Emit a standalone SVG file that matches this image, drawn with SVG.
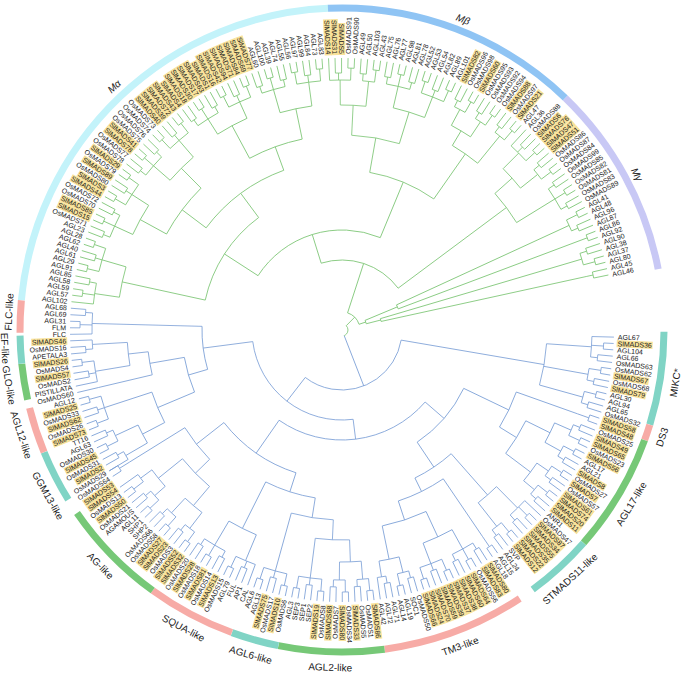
<svg xmlns="http://www.w3.org/2000/svg" width="685" height="676" viewBox="0 0 685 676">
<style>
text{font-family:"Liberation Sans",Arial,sans-serif;font-size:7px;fill:#1a1a1a}
.l text{text-anchor:end}
rect{fill:#f8e29a}
.gl text{font-size:10px;fill:#222;text-anchor:middle}
.gl .i{font-style:italic}
</style>
<defs>
<path id="a1" d="M272 0H262A262 262 0 0 1 261.93 6.13L271.93 6.36M261.98 3.06L249.98 2.92"/>
<path id="b1" d="M272 0H257A257 257 0 0 1 256.93 6.01L271.93 6.36M256.98 3.01L249.98 2.92"/>
<path id="a2" d="M272 0H262A262 262 0 0 1 261.92 6.29L271.92 6.53M261.98 3.15L249.98 3.00"/>
<path id="b2" d="M272 0H257A257 257 0 0 1 256.93 6.17L271.92 6.53M256.98 3.09L249.98 3.00"/>
<path id="s" d="M250 0H272"/>
</defs>
<rect width="685" height="676" style="fill:#fff"/>
<g transform="translate(342,330)">
<g id="connectors" fill="none" stroke-width="0.8">
<g id="mikc-edges" stroke="#7b9fd6">
<use href="#s" transform="rotate(1.5)"/>
<use href="#a1" transform="rotate(2.84)"/>
<use href="#b1" transform="rotate(5.52)"/>
<use href="#a1" transform="rotate(8.2)"/>
<use href="#b1" transform="rotate(10.88)"/>
<use href="#a1" transform="rotate(13.56)"/>
<use href="#b1" transform="rotate(16.24)"/>
<use href="#a1" transform="rotate(18.92)"/>
<use href="#b1" transform="rotate(21.6)"/>
<use href="#a1" transform="rotate(24.28)"/>
<use href="#a1" transform="rotate(26.96)"/>
<use href="#b1" transform="rotate(29.64)"/>
<use href="#a1" transform="rotate(32.32)"/>
<use href="#b1" transform="rotate(35)"/>
<use href="#a1" transform="rotate(37.68)"/>
<use href="#b1" transform="rotate(40.36)"/>
<use href="#s" transform="rotate(43.04)"/>
<use href="#a1" transform="rotate(44.38)"/>
<use href="#b1" transform="rotate(47.06)"/>
<use href="#a1" transform="rotate(49.74)"/>
<use href="#b1" transform="rotate(52.42)"/>
<use href="#a1" transform="rotate(55.1)"/>
<use href="#b1" transform="rotate(57.78)"/>
<use href="#a1" transform="rotate(60.46)"/>
<use href="#b1" transform="rotate(63.14)"/>
<use href="#a1" transform="rotate(65.82)"/>
<use href="#b1" transform="rotate(68.5)"/>
<use href="#a1" transform="rotate(71.18)"/>
<use href="#b1" transform="rotate(73.86)"/>
<use href="#a1" transform="rotate(76.54)"/>
<use href="#b1" transform="rotate(79.22)"/>
<use href="#s" transform="rotate(81.9)"/>
<use href="#a1" transform="rotate(83.24)"/>
<use href="#b1" transform="rotate(85.92)"/>
<use href="#a1" transform="rotate(88.6)"/>
<use href="#b1" transform="rotate(91.28)"/>
<use href="#a1" transform="rotate(93.96)"/>
<use href="#b1" transform="rotate(96.64)"/>
<use href="#a1" transform="rotate(99.32)"/>
<use href="#a2" transform="rotate(102.04)"/>
<use href="#b2" transform="rotate(104.79)"/>
<use href="#a2" transform="rotate(107.54)"/>
<use href="#s" transform="rotate(110.29)"/>
<use href="#b2" transform="rotate(111.67)"/>
<use href="#a2" transform="rotate(114.42)"/>
<use href="#b2" transform="rotate(117.17)"/>
<use href="#a2" transform="rotate(119.92)"/>
<use href="#b2" transform="rotate(122.68)"/>
<use href="#a2" transform="rotate(125.43)"/>
<use href="#b2" transform="rotate(128.18)"/>
<use href="#a2" transform="rotate(130.93)"/>
<use href="#b2" transform="rotate(133.68)"/>
<use href="#a2" transform="rotate(136.44)"/>
<use href="#b2" transform="rotate(139.19)"/>
<use href="#a2" transform="rotate(141.94)"/>
<use href="#s" transform="rotate(144.69)"/>
<use href="#a2" transform="rotate(147.44)"/>
<use href="#s" transform="rotate(148.82)"/>
<use href="#b2" transform="rotate(150.2)"/>
<use href="#a2" transform="rotate(152.95)"/>
<use href="#b2" transform="rotate(155.7)"/>
<use href="#a2" transform="rotate(158.45)"/>
<use href="#b2" transform="rotate(161.2)"/>
<use href="#a2" transform="rotate(163.96)"/>
<use href="#s" transform="rotate(166.71)"/>
<use href="#s" transform="rotate(168.08)"/>
<use href="#b2" transform="rotate(169.46)"/>
<use href="#a2" transform="rotate(172.21)"/>
<use href="#b2" transform="rotate(174.96)"/>
<use href="#s" transform="rotate(177.72)"/>
<use href="#s" transform="rotate(179.09)"/>
<use href="#a2" transform="rotate(180.47)"/>
<use href="#b2" transform="rotate(183.22)"/>
<circle r="250" pathLength="360" stroke-dasharray="4.69 360" transform="rotate(1.5)"/>
<circle r="250" pathLength="360" stroke-dasharray="2.68 360" transform="rotate(8.87)"/>
<circle r="250" pathLength="360" stroke-dasharray="2.68 360" transform="rotate(14.23)"/>
<circle r="205" pathLength="360" stroke-dasharray="11.72 360" transform="rotate(3.85)"/>
<circle r="250" pathLength="360" stroke-dasharray="2.68 360" transform="rotate(22.27)"/>
<circle r="250" pathLength="360" stroke-dasharray="2.68 360" transform="rotate(27.63)"/>
<circle r="232" pathLength="360" stroke-dasharray="5.36 360" transform="rotate(23.61)"/>
<circle r="250" pathLength="360" stroke-dasharray="2.68 360" transform="rotate(32.99)"/>
<circle r="250" pathLength="360" stroke-dasharray="2.68 360" transform="rotate(38.35)"/>
<circle r="236" pathLength="360" stroke-dasharray="5.36 360" transform="rotate(34.33)"/>
<circle r="205" pathLength="360" stroke-dasharray="10.72 360" transform="rotate(26.29)"/>
<circle r="185" pathLength="360" stroke-dasharray="12.06 360" transform="rotate(19.59)"/>
<circle r="250" pathLength="360" stroke-dasharray="4.69 360" transform="rotate(43.04)"/>
<circle r="250" pathLength="360" stroke-dasharray="2.68 360" transform="rotate(50.41)"/>
<circle r="220" pathLength="360" stroke-dasharray="6.36 360" transform="rotate(45.39)"/>
<circle r="250" pathLength="360" stroke-dasharray="5.36 360" transform="rotate(58.45)"/>
<circle r="250" pathLength="360" stroke-dasharray="5.36 360" transform="rotate(66.49)"/>
<circle r="228" pathLength="360" stroke-dasharray="8.04 360" transform="rotate(61.13)"/>
<circle r="250" pathLength="360" stroke-dasharray="2.68 360" transform="rotate(74.53)"/>
<circle r="250" pathLength="360" stroke-dasharray="2.01 360" transform="rotate(79.89)"/>
<circle r="234" pathLength="360" stroke-dasharray="5.03 360" transform="rotate(75.87)"/>
<circle r="200" pathLength="360" stroke-dasharray="13.24 360" transform="rotate(65.15)"/>
<circle r="180" pathLength="360" stroke-dasharray="16 360" transform="rotate(55.77)"/>
<circle r="165" pathLength="360" stroke-dasharray="15.2 360" transform="rotate(48.57)"/>
<circle r="135" pathLength="360" stroke-dasharray="30.55 360" transform="rotate(25.62)"/>
<circle r="250" pathLength="360" stroke-dasharray="2.68 360" transform="rotate(83.91)"/>
<circle r="250" pathLength="360" stroke-dasharray="2.68 360" transform="rotate(89.27)"/>
<circle r="232" pathLength="360" stroke-dasharray="5.36 360" transform="rotate(85.25)"/>
<circle r="250" pathLength="360" stroke-dasharray="5.36 360" transform="rotate(94.63)"/>
<circle r="210" pathLength="360" stroke-dasharray="9.38 360" transform="rotate(87.93)"/>
<circle r="250" pathLength="360" stroke-dasharray="5.5 360" transform="rotate(102.73)"/>
<circle r="190" pathLength="360" stroke-dasharray="12.86 360" transform="rotate(92.62)"/>
<circle r="250" pathLength="360" stroke-dasharray="4.82 360" transform="rotate(110.29)"/>
<circle r="250" pathLength="360" stroke-dasharray="5.51 360" transform="rotate(117.86)"/>
<circle r="222" pathLength="360" stroke-dasharray="7.92 360" transform="rotate(112.7)"/>
<circle r="170" pathLength="360" stroke-dasharray="17.61 360" transform="rotate(99.05)"/>
<circle r="250" pathLength="360" stroke-dasharray="2.75 360" transform="rotate(126.12)"/>
<circle r="250" pathLength="360" stroke-dasharray="2.75 360" transform="rotate(131.62)"/>
<circle r="230" pathLength="360" stroke-dasharray="5.5 360" transform="rotate(127.5)"/>
<circle r="250" pathLength="360" stroke-dasharray="2.75 360" transform="rotate(137.13)"/>
<circle r="250" pathLength="360" stroke-dasharray="2.06 360" transform="rotate(142.63)"/>
<circle r="236" pathLength="360" stroke-dasharray="5.15 360" transform="rotate(138.51)"/>
<circle r="205" pathLength="360" stroke-dasharray="10.84 360" transform="rotate(130.25)"/>
<circle r="185" pathLength="360" stroke-dasharray="12.46 360" transform="rotate(135.67)"/>
<circle r="150" pathLength="360" stroke-dasharray="34.04 360" transform="rotate(107.86)"/>
<circle r="110" pathLength="360" stroke-dasharray="83.98 360" transform="rotate(40.9)"/>
<circle r="250" pathLength="360" stroke-dasharray="2.07 360" transform="rotate(148.82)"/>
<circle r="250" pathLength="360" stroke-dasharray="2.75 360" transform="rotate(153.64)"/>
<circle r="225" pathLength="360" stroke-dasharray="5.16 360" transform="rotate(149.86)"/>
<circle r="250" pathLength="360" stroke-dasharray="5.51 360" transform="rotate(159.14)"/>
<circle r="200" pathLength="360" stroke-dasharray="9.46 360" transform="rotate(152.44)"/>
<circle r="250" pathLength="360" stroke-dasharray="4.82 360" transform="rotate(168.08)"/>
<circle r="250" pathLength="360" stroke-dasharray="2.07 360" transform="rotate(175.65)"/>
<circle r="215" pathLength="360" stroke-dasharray="6.2 360" transform="rotate(170.49)"/>
<circle r="195" pathLength="360" stroke-dasharray="6.88 360" transform="rotate(166.71)"/>
<circle r="160" pathLength="360" stroke-dasharray="12.98 360" transform="rotate(157.17)"/>
<circle r="250" pathLength="360" stroke-dasharray="4.82 360" transform="rotate(179.09)"/>
<circle r="140" pathLength="360" stroke-dasharray="17.84 360" transform="rotate(163.66)"/>
<circle r="90" pathLength="360" stroke-dasharray="89.69 360" transform="rotate(82.89)"/>
<circle r="60" pathLength="360" stroke-dasharray="118.03 360" transform="rotate(9.71)"/>
<path d="M205 0H250" transform="rotate(3.85)"/>
<path d="M205 0H250" transform="rotate(10.21)"/>
<path d="M205 0H250" transform="rotate(15.57)"/>
<path d="M60 0H205" transform="rotate(9.71)"/>
<path d="M185 0H250" transform="rotate(19.59)"/>
<path d="M232 0H250" transform="rotate(23.61)"/>
<path d="M232 0H250" transform="rotate(28.97)"/>
<path d="M205 0H232" transform="rotate(26.29)"/>
<path d="M236 0H250" transform="rotate(34.33)"/>
<path d="M236 0H250" transform="rotate(39.69)"/>
<path d="M205 0H236" transform="rotate(37.01)"/>
<path d="M185 0H205" transform="rotate(31.65)"/>
<path d="M135 0H185" transform="rotate(25.62)"/>
<path d="M220 0H250" transform="rotate(45.39)"/>
<path d="M220 0H250" transform="rotate(51.75)"/>
<path d="M165 0H220" transform="rotate(48.57)"/>
<path d="M180 0H250" transform="rotate(55.77)"/>
<path d="M228 0H250" transform="rotate(61.13)"/>
<path d="M228 0H250" transform="rotate(69.17)"/>
<path d="M200 0H228" transform="rotate(65.15)"/>
<path d="M234 0H250" transform="rotate(75.87)"/>
<path d="M234 0H250" transform="rotate(80.9)"/>
<path d="M200 0H234" transform="rotate(78.39)"/>
<path d="M180 0H200" transform="rotate(71.77)"/>
<path d="M165 0H180" transform="rotate(63.77)"/>
<path d="M135 0H165" transform="rotate(56.17)"/>
<path d="M110 0H135" transform="rotate(40.9)"/>
<path d="M232 0H250" transform="rotate(85.25)"/>
<path d="M232 0H250" transform="rotate(90.61)"/>
<path d="M210 0H232" transform="rotate(87.93)"/>
<path d="M210 0H250" transform="rotate(97.31)"/>
<path d="M190 0H210" transform="rotate(92.62)"/>
<path d="M190 0H250" transform="rotate(105.48)"/>
<path d="M170 0H190" transform="rotate(99.05)"/>
<path d="M222 0H250" transform="rotate(112.7)"/>
<path d="M222 0H250" transform="rotate(120.62)"/>
<path d="M170 0H222" transform="rotate(116.66)"/>
<path d="M150 0H170" transform="rotate(107.86)"/>
<path d="M230 0H250" transform="rotate(127.5)"/>
<path d="M230 0H250" transform="rotate(133)"/>
<path d="M205 0H230" transform="rotate(130.25)"/>
<path d="M236 0H250" transform="rotate(138.51)"/>
<path d="M236 0H250" transform="rotate(143.66)"/>
<path d="M205 0H236" transform="rotate(141.09)"/>
<path d="M185 0H205" transform="rotate(135.67)"/>
<path d="M185 0H250" transform="rotate(148.13)"/>
<path d="M150 0H185" transform="rotate(141.9)"/>
<path d="M110 0H150" transform="rotate(124.88)"/>
<path d="M90 0H110" transform="rotate(82.89)"/>
<path d="M225 0H250" transform="rotate(149.86)"/>
<path d="M225 0H250" transform="rotate(155.02)"/>
<path d="M200 0H225" transform="rotate(152.44)"/>
<path d="M200 0H250" transform="rotate(161.9)"/>
<path d="M160 0H200" transform="rotate(157.17)"/>
<path d="M195 0H250" transform="rotate(166.71)"/>
<path d="M215 0H250" transform="rotate(170.49)"/>
<path d="M215 0H250" transform="rotate(176.69)"/>
<path d="M195 0H215" transform="rotate(173.59)"/>
<path d="M160 0H195" transform="rotate(170.15)"/>
<path d="M140 0H160" transform="rotate(163.66)"/>
<path d="M140 0H250" transform="rotate(181.5)"/>
<path d="M90 0H140" transform="rotate(172.58)"/>
<path d="M60 0H90" transform="rotate(127.74)"/>
<path d="M6 0H60" transform="rotate(68.73)"/>
</g>
<g id="m-edges" stroke="#7cc574">
<use href="#s" transform="rotate(185.97)"/>
<use href="#a2" transform="rotate(187.35)"/>
<use href="#b2" transform="rotate(190.1)"/>
<use href="#a2" transform="rotate(192.85)"/>
<use href="#b2" transform="rotate(195.6)"/>
<use href="#a2" transform="rotate(198.36)"/>
<use href="#b2" transform="rotate(201.11)"/>
<use href="#a2" transform="rotate(203.86)"/>
<use href="#b2" transform="rotate(206.61)"/>
<use href="#a2" transform="rotate(209.36)"/>
<use href="#b2" transform="rotate(212.12)"/>
<use href="#a2" transform="rotate(214.87)"/>
<use href="#b2" transform="rotate(217.62)"/>
<use href="#a2" transform="rotate(220.37)"/>
<use href="#b2" transform="rotate(223.12)"/>
<use href="#a2" transform="rotate(225.88)"/>
<use href="#b2" transform="rotate(228.63)"/>
<use href="#a2" transform="rotate(231.38)"/>
<use href="#b2" transform="rotate(234.13)"/>
<use href="#a2" transform="rotate(236.88)"/>
<use href="#b2" transform="rotate(239.64)"/>
<use href="#a2" transform="rotate(242.39)"/>
<use href="#b2" transform="rotate(245.14)"/>
<use href="#a2" transform="rotate(247.89)"/>
<use href="#b2" transform="rotate(250.64)"/>
<use href="#a2" transform="rotate(253.4)"/>
<use href="#b2" transform="rotate(256.15)"/>
<use href="#a2" transform="rotate(258.9)"/>
<use href="#b2" transform="rotate(261.65)"/>
<use href="#a2" transform="rotate(264.4)"/>
<use href="#s" transform="rotate(267.16)"/>
<use href="#b2" transform="rotate(268.53)"/>
<use href="#a2" transform="rotate(271.28)"/>
<use href="#b2" transform="rotate(274.04)"/>
<use href="#a2" transform="rotate(276.79)"/>
<use href="#b2" transform="rotate(279.54)"/>
<use href="#a2" transform="rotate(282.29)"/>
<use href="#b2" transform="rotate(285.04)"/>
<use href="#a2" transform="rotate(287.8)"/>
<use href="#b2" transform="rotate(290.55)"/>
<use href="#a2" transform="rotate(293.3)"/>
<use href="#b2" transform="rotate(296.05)"/>
<use href="#a2" transform="rotate(298.8)"/>
<use href="#b2" transform="rotate(301.56)"/>
<use href="#a2" transform="rotate(304.31)"/>
<use href="#b2" transform="rotate(307.06)"/>
<use href="#a2" transform="rotate(309.81)"/>
<use href="#s" transform="rotate(312.56)"/>
<use href="#b2" transform="rotate(313.94)"/>
<use href="#a2" transform="rotate(316.69)"/>
<use href="#b2" transform="rotate(319.44)"/>
<use href="#a2" transform="rotate(322.2)"/>
<use href="#b2" transform="rotate(324.95)"/>
<use href="#a2" transform="rotate(327.7)"/>
<use href="#b2" transform="rotate(330.45)"/>
<use href="#a2" transform="rotate(333.2)"/>
<use href="#b2" transform="rotate(335.96)"/>
<use href="#a2" transform="rotate(338.71)"/>
<use href="#b2" transform="rotate(341.46)"/>
<use href="#a2" transform="rotate(344.21)"/>
<use href="#b2" transform="rotate(346.96)"/>
<circle r="250" pathLength="360" stroke-dasharray="4.82 360" transform="rotate(185.97)"/>
<circle r="250" pathLength="360" stroke-dasharray="5.51 360" transform="rotate(193.54)"/>
<circle r="225" pathLength="360" stroke-dasharray="7.92 360" transform="rotate(188.38)"/>
<circle r="250" pathLength="360" stroke-dasharray="5.5 360" transform="rotate(201.8)"/>
<circle r="250" pathLength="360" stroke-dasharray="5.51 360" transform="rotate(210.05)"/>
<circle r="230" pathLength="360" stroke-dasharray="8.26 360" transform="rotate(204.55)"/>
<circle r="250" pathLength="360" stroke-dasharray="5.5 360" transform="rotate(218.31)"/>
<circle r="250" pathLength="360" stroke-dasharray="5.5 360" transform="rotate(226.57)"/>
<circle r="228" pathLength="360" stroke-dasharray="8.26 360" transform="rotate(221.06)"/>
<circle r="200" pathLength="360" stroke-dasharray="16.51 360" transform="rotate(208.68)"/>
<circle r="250" pathLength="360" stroke-dasharray="5.51 360" transform="rotate(234.82)"/>
<circle r="250" pathLength="360" stroke-dasharray="5.5 360" transform="rotate(243.08)"/>
<circle r="232" pathLength="360" stroke-dasharray="8.25 360" transform="rotate(237.58)"/>
<circle r="250" pathLength="360" stroke-dasharray="5.51 360" transform="rotate(251.33)"/>
<circle r="250" pathLength="360" stroke-dasharray="5.5 360" transform="rotate(259.59)"/>
<circle r="226" pathLength="360" stroke-dasharray="8.25 360" transform="rotate(254.09)"/>
<circle r="195" pathLength="360" stroke-dasharray="16.51 360" transform="rotate(241.71)"/>
<circle r="170" pathLength="360" stroke-dasharray="33.03 360" transform="rotate(216.94)"/>
<circle r="140" pathLength="360" stroke-dasharray="41.12 360" transform="rotate(192.34)"/>
<circle r="250" pathLength="360" stroke-dasharray="4.81 360" transform="rotate(267.16)"/>
<circle r="250" pathLength="360" stroke-dasharray="2.75 360" transform="rotate(274.73)"/>
<circle r="225" pathLength="360" stroke-dasharray="6.54 360" transform="rotate(269.57)"/>
<circle r="250" pathLength="360" stroke-dasharray="5.5 360" transform="rotate(280.23)"/>
<circle r="250" pathLength="360" stroke-dasharray="5.5 360" transform="rotate(288.49)"/>
<circle r="228" pathLength="360" stroke-dasharray="8.26 360" transform="rotate(282.98)"/>
<circle r="195" pathLength="360" stroke-dasharray="14.27 360" transform="rotate(272.84)"/>
<circle r="250" pathLength="360" stroke-dasharray="2.75 360" transform="rotate(296.74)"/>
<circle r="250" pathLength="360" stroke-dasharray="2.75 360" transform="rotate(302.25)"/>
<circle r="232" pathLength="360" stroke-dasharray="5.51 360" transform="rotate(298.12)"/>
<circle r="250" pathLength="360" stroke-dasharray="2.75 360" transform="rotate(307.75)"/>
<circle r="215" pathLength="360" stroke-dasharray="8.25 360" transform="rotate(300.88)"/>
<circle r="160" pathLength="360" stroke-dasharray="25.03 360" transform="rotate(279.98)"/>
<circle r="250" pathLength="360" stroke-dasharray="4.82 360" transform="rotate(312.56)"/>
<circle r="250" pathLength="360" stroke-dasharray="2.76 360" transform="rotate(320.13)"/>
<circle r="228" pathLength="360" stroke-dasharray="6.54 360" transform="rotate(314.97)"/>
<circle r="250" pathLength="360" stroke-dasharray="5.5 360" transform="rotate(325.64)"/>
<circle r="205" pathLength="360" stroke-dasharray="10.15 360" transform="rotate(318.24)"/>
<circle r="250" pathLength="360" stroke-dasharray="2.76 360" transform="rotate(333.89)"/>
<circle r="60" pathLength="360" stroke-dasharray="4.13 360" transform="rotate(335.27)"/>
<circle r="250" pathLength="360" stroke-dasharray="2.75 360" transform="rotate(342.15)"/>
<circle r="40" pathLength="360" stroke-dasharray="4.12 360" transform="rotate(343.53)"/>
<circle r="25" pathLength="360" stroke-dasharray="8.25 360" transform="rotate(337.34)"/>
<circle r="100" pathLength="360" stroke-dasharray="79.6 360" transform="rotate(212.9)"/>
<circle r="70" pathLength="360" stroke-dasharray="70.62 360" transform="rotate(252.7)"/>
<circle r="18" pathLength="360" stroke-dasharray="53.46 360" transform="rotate(288.01)"/>
<circle r="6" pathLength="360" stroke-dasharray="113.99 360" transform="rotate(314.74)"/>
<path d="M225 0H250" transform="rotate(188.38)"/>
<path d="M225 0H250" transform="rotate(196.3)"/>
<path d="M140 0H225" transform="rotate(192.34)"/>
<path d="M230 0H250" transform="rotate(204.55)"/>
<path d="M230 0H250" transform="rotate(212.81)"/>
<path d="M200 0H230" transform="rotate(208.68)"/>
<path d="M228 0H250" transform="rotate(221.06)"/>
<path d="M228 0H250" transform="rotate(229.32)"/>
<path d="M200 0H228" transform="rotate(225.19)"/>
<path d="M170 0H200" transform="rotate(216.94)"/>
<path d="M232 0H250" transform="rotate(237.58)"/>
<path d="M232 0H250" transform="rotate(245.83)"/>
<path d="M195 0H232" transform="rotate(241.71)"/>
<path d="M226 0H250" transform="rotate(254.09)"/>
<path d="M226 0H250" transform="rotate(262.34)"/>
<path d="M195 0H226" transform="rotate(258.22)"/>
<path d="M170 0H195" transform="rotate(249.97)"/>
<path d="M140 0H170" transform="rotate(233.46)"/>
<path d="M100 0H140" transform="rotate(212.9)"/>
<path d="M225 0H250" transform="rotate(269.57)"/>
<path d="M225 0H250" transform="rotate(276.11)"/>
<path d="M195 0H225" transform="rotate(272.84)"/>
<path d="M228 0H250" transform="rotate(282.98)"/>
<path d="M228 0H250" transform="rotate(291.24)"/>
<path d="M195 0H228" transform="rotate(287.11)"/>
<path d="M160 0H195" transform="rotate(279.98)"/>
<path d="M232 0H250" transform="rotate(298.12)"/>
<path d="M232 0H250" transform="rotate(303.63)"/>
<path d="M215 0H232" transform="rotate(300.88)"/>
<path d="M215 0H250" transform="rotate(309.13)"/>
<path d="M160 0H215" transform="rotate(305.01)"/>
<path d="M100 0H160" transform="rotate(292.5)"/>
<path d="M228 0H250" transform="rotate(314.97)"/>
<path d="M228 0H250" transform="rotate(321.51)"/>
<path d="M205 0H228" transform="rotate(318.24)"/>
<path d="M205 0H250" transform="rotate(328.39)"/>
<path d="M70 0H205" transform="rotate(323.32)"/>
<path d="M60 0H250" transform="rotate(335.27)"/>
<path d="M60 0H250" transform="rotate(339.4)"/>
<path d="M25 0H60" transform="rotate(337.34)"/>
<path d="M40 0H250" transform="rotate(343.53)"/>
<path d="M40 0H250" transform="rotate(347.65)"/>
<path d="M25 0H40" transform="rotate(345.59)"/>
<path d="M18 0H25" transform="rotate(341.47)"/>
<path d="M70 0H100" transform="rotate(252.7)"/>
<path d="M18 0H70" transform="rotate(288.01)"/>
<path d="M6 0H18" transform="rotate(314.74)"/>
</g>
</g>
<g id="rings" fill="none" stroke-width="7">
<circle r="322" pathLength="360" stroke-dasharray="82.2 360" transform="rotate(185.3)" stroke="#c3f3fa"/>
<circle r="322" pathLength="360" stroke-dasharray="46.4 360" transform="rotate(267.5)" stroke="#8fc4f4"/>
<circle r="322" pathLength="360" stroke-dasharray="35.2 360" transform="rotate(313.9)" stroke="#c8c8f5"/>
<circle r="322" pathLength="360" stroke-dasharray="16.8 360" transform="rotate(0.3)" stroke="#80d4c5"/>
<circle r="322" pathLength="360" stroke-dasharray="2.9 360" transform="rotate(17.1)" stroke="#f7aba6"/>
<circle r="322" pathLength="360" stroke-dasharray="21.4 360" transform="rotate(20)" stroke="#76c877"/>
<circle r="322" pathLength="360" stroke-dasharray="12.3 360" transform="rotate(41.4)" stroke="#80d4c5"/>
<circle r="322" pathLength="360" stroke-dasharray="25.9 360" transform="rotate(56.5)" stroke="#f7aba6"/>
<circle r="322" pathLength="360" stroke-dasharray="19 360" transform="rotate(82.4)" stroke="#76c877"/>
<circle r="322" pathLength="360" stroke-dasharray="8.6 360" transform="rotate(101.4)" stroke="#80d4c5"/>
<circle r="322" pathLength="360" stroke-dasharray="16 360" transform="rotate(110)" stroke="#f7aba6"/>
<circle r="322" pathLength="360" stroke-dasharray="19.4 360" transform="rotate(126)" stroke="#76c877"/>
<circle r="322" pathLength="360" stroke-dasharray="9.5 360" transform="rotate(148.2)" stroke="#80d4c5"/>
<circle r="322" pathLength="360" stroke-dasharray="8.3 360" transform="rotate(157.7)" stroke="#f7aba6"/>
<circle r="322" pathLength="360" stroke-dasharray="6.5 360" transform="rotate(167.5)" stroke="#76c877"/>
<circle r="322" pathLength="360" stroke-dasharray="5 360" transform="rotate(174)" stroke="#80d4c5"/>
<circle r="322" pathLength="360" stroke-dasharray="5.8 360" transform="rotate(179.5)" stroke="#f7aba6"/>
</g>
<g id="group-labels" class="gl">
<text class="i" transform="rotate(226.9) translate(330,0) rotate(90)">Mα</text>
<text class="i" transform="rotate(291.3) translate(330,0) rotate(90)">Mβ</text>
<text class="i" transform="rotate(332.2) translate(330,0) rotate(90)">Mγ</text>
<text transform="rotate(183.1) translate(330,0) rotate(90)">FLC-like</text>
<text transform="rotate(9) translate(341,0) rotate(-90)">MIKC*</text>
<text transform="rotate(18.5) translate(341,0) rotate(-90)">DS3</text>
<text transform="rotate(31) translate(341,0) rotate(-90)">AGL17-like</text>
<text transform="rotate(47.5) translate(341,0) rotate(-90)">STMADS11-like</text>
<text transform="rotate(69.5) translate(341,0) rotate(-90)">TM3-like</text>
<text transform="rotate(92) translate(341,0) rotate(-90)">AGL2-like</text>
<text transform="rotate(105.7) translate(341,0) rotate(-90)">AGL6-like</text>
<text transform="rotate(118) translate(341,0) rotate(-90)">SQUA-like</text>
<text transform="rotate(135.7) translate(341,0) rotate(-90)">AG-like</text>
<text transform="rotate(150.6) translate(341,0) rotate(-90)">GGM13-like</text>
<text transform="rotate(161.9) translate(341,0) rotate(-90)">AGL12-like</text>
<text transform="rotate(170.6) translate(341,0) rotate(-90)">GLO-like</text>
<text transform="rotate(176.9) translate(341,0) rotate(-90)">EF-like</text>
</g>
<g id="leaves">
<g id="n0" transform="rotate(1.5)"><text x="276" y="2.5">AGL67</text></g>
<g id="n1" transform="rotate(2.84)"><rect x="275" y="-3.7" width="36" height="7.4"/><text x="276" y="2.5">SlMADS36</text></g>
<g id="n2" transform="rotate(4.18)"><text x="276" y="2.5">AGL104</text></g>
<g id="n3" transform="rotate(5.52)"><text x="276" y="2.5">AGL66</text></g>
<g id="n4" transform="rotate(6.86)"><text x="276" y="2.5">OsMADS63</text></g>
<g id="n5" transform="rotate(8.2)"><text x="276" y="2.5">OsMADS62</text></g>
<g id="n6" transform="rotate(9.54)"><rect x="275" y="-3.7" width="36" height="7.4"/><text x="276" y="2.5">SlMADS67</text></g>
<g id="n7" transform="rotate(10.88)"><text x="276" y="2.5">OsMADS68</text></g>
<g id="n8" transform="rotate(12.22)"><rect x="275" y="-3.7" width="36" height="7.4"/><text x="276" y="2.5">SlMADS79</text></g>
<g id="n9" transform="rotate(13.56)"><text x="276" y="2.5">AGL30</text></g>
<g id="n10" transform="rotate(14.9)"><text x="276" y="2.5">AGL94</text></g>
<g id="n11" transform="rotate(16.24)"><text x="276" y="2.5">AGL65</text></g>
<g id="n12" transform="rotate(17.58)"><text x="276" y="2.5">OsMADS32</text></g>
<g id="n13" transform="rotate(18.92)"><rect x="275" y="-3.7" width="36" height="7.4"/><text x="276" y="2.5">SlMADS58</text></g>
<g id="n14" transform="rotate(20.26)"><rect x="275" y="-3.7" width="36" height="7.4"/><text x="276" y="2.5">SlMADS48</text></g>
<g id="n15" transform="rotate(21.6)"><text x="276" y="2.5">OsMADS25</text></g>
<g id="n16" transform="rotate(22.94)"><rect x="275" y="-3.7" width="36" height="7.4"/><text x="276" y="2.5">SlMADS49</text></g>
<g id="n17" transform="rotate(24.28)"><rect x="275" y="-3.7" width="36" height="7.4"/><text x="276" y="2.5">SlMADS65</text></g>
<g id="n18" transform="rotate(25.62)"><text x="276" y="2.5">OsMADS23</text></g>
<g id="n19" transform="rotate(26.96)"><rect x="275" y="-3.7" width="36" height="7.4"/><text x="276" y="2.5">SlMADS56</text></g>
<g id="n20" transform="rotate(28.3)"><text x="276" y="2.5">AGL17</text></g>
<g id="n21" transform="rotate(29.64)"><text x="276" y="2.5">AGL21</text></g>
<g id="n22" transform="rotate(30.98)"><rect x="275" y="-3.7" width="32" height="7.4"/><text x="276" y="2.5">SlMADS8</text></g>
<g id="n23" transform="rotate(32.32)"><text x="276" y="2.5">OsMADS27</text></g>
<g id="n24" transform="rotate(33.66)"><rect x="275" y="-3.7" width="32" height="7.4"/><text x="276" y="2.5">SlMADS7</text></g>
<g id="n25" transform="rotate(35)"><text x="276" y="2.5">OsMADS57</text></g>
<g id="n26" transform="rotate(36.34)"><rect x="275" y="-3.7" width="36" height="7.4"/><text x="276" y="2.5">SlMADS61</text></g>
<g id="n27" transform="rotate(37.68)"><rect x="275" y="-3.7" width="36" height="7.4"/><text x="276" y="2.5">SlMADS74</text></g>
<g id="n28" transform="rotate(39.02)"><rect x="275" y="-3.7" width="36" height="7.4"/><text x="276" y="2.5">SlMADS20</text></g>
<g id="n29" transform="rotate(40.36)"><rect x="275" y="-3.7" width="36" height="7.4"/><text x="276" y="2.5">SlMADS11</text></g>
<g id="n30" transform="rotate(41.7)"><text x="276" y="2.5">ANR1</text></g>
<g id="n31" transform="rotate(43.04)"><text x="276" y="2.5">OsMADS47</text></g>
<g id="n32" transform="rotate(44.38)"><rect x="275" y="-3.7" width="36" height="7.4"/><text x="276" y="2.5">SlMADS87</text></g>
<g id="n33" transform="rotate(45.72)"><rect x="275" y="-3.7" width="36" height="7.4"/><text x="276" y="2.5">SlMADS34</text></g>
<g id="n34" transform="rotate(47.06)"><rect x="275" y="-3.7" width="36" height="7.4"/><text x="276" y="2.5">SlMADS55</text></g>
<g id="n35" transform="rotate(48.4)"><rect x="275" y="-3.7" width="36" height="7.4"/><text x="276" y="2.5">SlMADS35</text></g>
<g id="n36" transform="rotate(49.74)"><rect x="275" y="-3.7" width="36" height="7.4"/><text x="276" y="2.5">SlMADS22</text></g>
<g id="n37" transform="rotate(51.08)"><rect x="275" y="-3.7" width="36" height="7.4"/><text x="276" y="2.5">SlMADS12</text></g>
<g id="n38" transform="rotate(52.42)"><text x="276" y="2.5">SVP</text></g>
<g id="n39" transform="rotate(53.76)"><text x="276" y="2.5">AGL24</text></g>
<g id="n40" transform="rotate(55.1)"><text x="276" y="2.5">AGL15</text></g>
<g id="n41" transform="rotate(56.44)"><text x="276" y="2.5">AGL18</text></g>
<g id="n42" transform="rotate(57.78)"><rect x="275" y="-3.7" width="36" height="7.4"/><text x="276" y="2.5">SlMADS80</text></g>
<g id="n43" transform="rotate(59.12)"><rect x="275" y="-3.7" width="36" height="7.4"/><text x="276" y="2.5">SlMADS83</text></g>
<g id="n44" transform="rotate(60.46)"><text x="276" y="2.5">OsMADS56</text></g>
<g id="n45" transform="rotate(61.8)"><rect x="275" y="-3.7" width="36" height="7.4"/><text x="276" y="2.5">SlMADS64</text></g>
<g id="n46" transform="rotate(63.14)"><rect x="275" y="-3.7" width="36" height="7.4"/><text x="276" y="2.5">SlMADS60</text></g>
<g id="n47" transform="rotate(64.48)"><rect x="275" y="-3.7" width="36" height="7.4"/><text x="276" y="2.5">SlMADS38</text></g>
<g id="n48" transform="rotate(65.82)"><rect x="275" y="-3.7" width="36" height="7.4"/><text x="276" y="2.5">SlMADS37</text></g>
<g id="n49" transform="rotate(67.16)"><rect x="275" y="-3.7" width="36" height="7.4"/><text x="276" y="2.5">SlMADS39</text></g>
<g id="n50" transform="rotate(68.5)"><rect x="275" y="-3.7" width="36" height="7.4"/><text x="276" y="2.5">SlMADS59</text></g>
<g id="n51" transform="rotate(69.84)"><rect x="275" y="-3.7" width="36" height="7.4"/><text x="276" y="2.5">SlMADS70</text></g>
<g id="n52" transform="rotate(71.18)"><rect x="275" y="-3.7" width="36" height="7.4"/><text x="276" y="2.5">SlMADS24</text></g>
<g id="n53" transform="rotate(72.52)"><rect x="275" y="-3.7" width="36" height="7.4"/><text x="276" y="2.5">SlMADS66</text></g>
<g id="n54" transform="rotate(73.86)"><text x="276" y="2.5">OsMADS50</text></g>
<g id="n55" transform="rotate(75.2)"><text x="276" y="2.5">SOC1</text></g>
<g id="n56" transform="rotate(76.54)"><text x="276" y="2.5">AGL19</text></g>
<g id="n57" transform="rotate(77.88)"><text x="276" y="2.5">AGL14</text></g>
<g id="n58" transform="rotate(79.22)"><text x="276" y="2.5">AGL71</text></g>
<g id="n59" transform="rotate(80.56)"><text x="276" y="2.5">AGL72</text></g>
<g id="n60" transform="rotate(81.9)"><text x="276" y="2.5">AGL42</text></g>
<g id="n61" transform="rotate(83.24)"><rect x="275" y="-3.7" width="36" height="7.4"/><text x="276" y="2.5">SlMADS86</text></g>
<g id="n62" transform="rotate(84.58)"><text x="276" y="2.5">OsMADS1</text></g>
<g id="n63" transform="rotate(85.92)"><text x="276" y="2.5">OsMADS5</text></g>
<g id="n64" transform="rotate(87.26)"><rect x="275" y="-3.7" width="36" height="7.4"/><text x="276" y="2.5">SlMADS33</text></g>
<g id="n65" transform="rotate(88.6)"><text x="276" y="2.5">OsMADS34</text></g>
<g id="n66" transform="rotate(89.94)"><rect x="275" y="-3.7" width="36" height="7.4"/><text x="276" y="2.5">SlMADS80</text></g>
<g id="n67" class="l" transform="rotate(-88.72)"><text x="-276" y="2.5">OsMADS7</text></g>
<g id="n68" class="l" transform="rotate(-87.38)"><rect x="-311" y="-3.7" width="36" height="7.4"/><text x="-276" y="2.5">SlMADS68</text></g>
<g id="n69" class="l" transform="rotate(-86.04)"><text x="-276" y="2.5">OsMADS8</text></g>
<g id="n70" class="l" transform="rotate(-84.7)"><rect x="-311" y="-3.7" width="36" height="7.4"/><text x="-276" y="2.5">SlMADS19</text></g>
<g id="n71" class="l" transform="rotate(-83.36)"><text x="-276" y="2.5">SEP2</text></g>
<g id="n72" class="l" transform="rotate(-82.02)"><text x="-276" y="2.5">SEP1</text></g>
<g id="n73" class="l" transform="rotate(-80.68)"><text x="-276" y="2.5">SEP3</text></g>
<g id="n74" class="l" transform="rotate(-79.34)"><text x="-276" y="2.5">AGL3</text></g>
<g id="n75" class="l" transform="rotate(-77.96)"><text x="-276" y="2.5">OsMADS6</text></g>
<g id="n76" class="l" transform="rotate(-76.59)"><rect x="-311" y="-3.7" width="36" height="7.4"/><text x="-276" y="2.5">SlMADS10</text></g>
<g id="n77" class="l" transform="rotate(-75.21)"><text x="-276" y="2.5">OsMADS17</text></g>
<g id="n78" class="l" transform="rotate(-73.84)"><rect x="-311" y="-3.7" width="36" height="7.4"/><text x="-276" y="2.5">SlMADS75</text></g>
<g id="n79" class="l" transform="rotate(-72.46)"><text x="-276" y="2.5">AGL13</text></g>
<g id="n80" class="l" transform="rotate(-71.08)"><text x="-276" y="2.5">AGL6</text></g>
<g id="n81" class="l" transform="rotate(-69.71)"><text x="-276" y="2.5">CAL</text></g>
<g id="n82" class="l" transform="rotate(-68.33)"><text x="-276" y="2.5">AP1</text></g>
<g id="n83" class="l" transform="rotate(-66.96)"><text x="-276" y="2.5">FUL</text></g>
<g id="n84" class="l" transform="rotate(-65.58)"><text x="-276" y="2.5">AGL79</text></g>
<g id="n85" class="l" transform="rotate(-64.2)"><text x="-276" y="2.5">OsMADS15</text></g>
<g id="n86" class="l" transform="rotate(-62.83)"><rect x="-311" y="-3.7" width="36" height="7.4"/><text x="-276" y="2.5">SlMADS13</text></g>
<g id="n87" class="l" transform="rotate(-61.45)"><text x="-276" y="2.5">OsMADS14</text></g>
<g id="n88" class="l" transform="rotate(-60.08)"><rect x="-311" y="-3.7" width="36" height="7.4"/><text x="-276" y="2.5">SlMADS81</text></g>
<g id="n89" class="l" transform="rotate(-58.7)"><text x="-276" y="2.5">OsMADS18</text></g>
<g id="n90" class="l" transform="rotate(-57.32)"><rect x="-311" y="-3.7" width="36" height="7.4"/><text x="-276" y="2.5">SlMADS28</text></g>
<g id="n91" class="l" transform="rotate(-55.95)"><text x="-276" y="2.5">OsMADS20</text></g>
<g id="n92" class="l" transform="rotate(-54.57)"><rect x="-311" y="-3.7" width="36" height="7.4"/><text x="-276" y="2.5">SlMADS32</text></g>
<g id="n93" class="l" transform="rotate(-53.2)"><rect x="-311" y="-3.7" width="36" height="7.4"/><text x="-276" y="2.5">SlMADS52</text></g>
<g id="n94" class="l" transform="rotate(-51.82)"><text x="-276" y="2.5">OsMADS3</text></g>
<g id="n95" class="l" transform="rotate(-50.44)"><rect x="-311" y="-3.7" width="36" height="7.4"/><text x="-276" y="2.5">SlMADS23</text></g>
<g id="n96" class="l" transform="rotate(-49.07)"><rect x="-311" y="-3.7" width="36" height="7.4"/><text x="-276" y="2.5">SlMADS27</text></g>
<g id="n97" class="l" transform="rotate(-47.69)"><text x="-276" y="2.5">OsMADS58</text></g>
<g id="n98" class="l" transform="rotate(-46.32)"><text x="-276" y="2.5">OsMADS66</text></g>
<g id="n99" class="l" transform="rotate(-44.94)"><text x="-276" y="2.5">SHP2</text></g>
<g id="n100" class="l" transform="rotate(-43.56)"><text x="-276" y="2.5">SHP1</text></g>
<g id="n101" class="l" transform="rotate(-42.19)"><text x="-276" y="2.5">AGL11</text></g>
<g id="n102" class="l" transform="rotate(-40.81)"><text x="-276" y="2.5">AGAMOUS</text></g>
<g id="n103" class="l" transform="rotate(-39.44)"><text x="-276" y="2.5">OsMADS21</text></g>
<g id="n104" class="l" transform="rotate(-38.06)"><rect x="-311" y="-3.7" width="36" height="7.4"/><text x="-276" y="2.5">SlMADS50</text></g>
<g id="n105" class="l" transform="rotate(-36.68)"><text x="-276" y="2.5">OsMADS13</text></g>
<g id="n106" class="l" transform="rotate(-35.31)"><rect x="-311" y="-3.7" width="36" height="7.4"/><text x="-276" y="2.5">SlMADS54</text></g>
<g id="n107" class="l" transform="rotate(-33.93)"><rect x="-311" y="-3.7" width="36" height="7.4"/><text x="-276" y="2.5">SlMADS53</text></g>
<g id="n108" class="l" transform="rotate(-32.56)"><text x="-276" y="2.5">OsMADS64</text></g>
<g id="n109" class="l" transform="rotate(-31.18)"><text x="-276" y="2.5">OsMADS29</text></g>
<g id="n110" class="l" transform="rotate(-29.8)"><rect x="-307" y="-3.7" width="32" height="7.4"/><text x="-276" y="2.5">SlMADS2</text></g>
<g id="n111" class="l" transform="rotate(-28.43)"><text x="-276" y="2.5">OsMADS31</text></g>
<g id="n112" class="l" transform="rotate(-27.05)"><rect x="-311" y="-3.7" width="36" height="7.4"/><text x="-276" y="2.5">SlMADS45</text></g>
<g id="n113" class="l" transform="rotate(-25.68)"><text x="-276" y="2.5">OsMADS30</text></g>
<g id="n114" class="l" transform="rotate(-24.3)"><text x="-276" y="2.5">AGL63</text></g>
<g id="n115" class="l" transform="rotate(-22.92)"><text x="-276" y="2.5">TT16</text></g>
<g id="n116" class="l" transform="rotate(-21.55)"><rect x="-311" y="-3.7" width="36" height="7.4"/><text x="-276" y="2.5">SlMADS73</text></g>
<g id="n117" class="l" transform="rotate(-20.17)"><text x="-276" y="2.5">OsMADS26</text></g>
<g id="n118" class="l" transform="rotate(-18.8)"><rect x="-311" y="-3.7" width="36" height="7.4"/><text x="-276" y="2.5">SlMADS62</text></g>
<g id="n119" class="l" transform="rotate(-17.42)"><text x="-276" y="2.5">OsMADS33</text></g>
<g id="n120" class="l" transform="rotate(-16.04)"><rect x="-311" y="-3.7" width="36" height="7.4"/><text x="-276" y="2.5">SlMADS25</text></g>
<g id="n121" class="l" transform="rotate(-14.67)"><text x="-276" y="2.5">AGL12</text></g>
<g id="n122" class="l" transform="rotate(-13.29)"><text x="-276" y="2.5">OsMADS60</text></g>
<g id="n123" class="l" transform="rotate(-11.92)"><text x="-276" y="2.5">PISTILLATA</text></g>
<g id="n124" class="l" transform="rotate(-10.54)"><text x="-276" y="2.5">OsMADS2</text></g>
<g id="n125" class="l" transform="rotate(-9.16)"><rect x="-311" y="-3.7" width="36" height="7.4"/><text x="-276" y="2.5">SlMADS57</text></g>
<g id="n126" class="l" transform="rotate(-7.79)"><text x="-276" y="2.5">OsMADS4</text></g>
<g id="n127" class="l" transform="rotate(-6.41)"><rect x="-311" y="-3.7" width="36" height="7.4"/><text x="-276" y="2.5">SlMADS26</text></g>
<g id="n128" class="l" transform="rotate(-5.04)"><text x="-276" y="2.5">APETALA3</text></g>
<g id="n129" class="l" transform="rotate(-3.66)"><text x="-276" y="2.5">OsMADS16</text></g>
<g id="n130" class="l" transform="rotate(-2.28)"><rect x="-311" y="-3.7" width="36" height="7.4"/><text x="-276" y="2.5">SlMADS46</text></g>
<g id="n131" class="l" transform="rotate(-0.91)"><text x="-276" y="2.5">FLC</text></g>
<g id="n132" class="l" transform="rotate(0.47)"><text x="-276" y="2.5">FLM</text></g>
<g id="n133" class="l" transform="rotate(1.84)"><text x="-276" y="2.5">AGL31</text></g>
<g id="n134" class="l" transform="rotate(3.22)"><text x="-276" y="2.5">AGL69</text></g>
<g id="n135" class="l" transform="rotate(4.6)"><text x="-276" y="2.5">AGL68</text></g>
<g id="n136" class="l" transform="rotate(5.97)"><text x="-276" y="2.5">AGL102</text></g>
<g id="n137" class="l" transform="rotate(7.35)"><text x="-276" y="2.5">AGL57</text></g>
<g id="n138" class="l" transform="rotate(8.72)"><text x="-276" y="2.5">AGL59</text></g>
<g id="n139" class="l" transform="rotate(10.1)"><text x="-276" y="2.5">AGL58</text></g>
<g id="n140" class="l" transform="rotate(11.48)"><text x="-276" y="2.5">AGL85</text></g>
<g id="n141" class="l" transform="rotate(12.85)"><text x="-276" y="2.5">AGL91</text></g>
<g id="n142" class="l" transform="rotate(14.23)"><text x="-276" y="2.5">AGL29</text></g>
<g id="n143" class="l" transform="rotate(15.6)"><text x="-276" y="2.5">AGL61</text></g>
<g id="n144" class="l" transform="rotate(16.98)"><text x="-276" y="2.5">AGL40</text></g>
<g id="n145" class="l" transform="rotate(18.36)"><text x="-276" y="2.5">AGL62</text></g>
<g id="n146" class="l" transform="rotate(19.73)"><text x="-276" y="2.5">AGL28</text></g>
<g id="n147" class="l" transform="rotate(21.11)"><text x="-276" y="2.5">AGL23</text></g>
<g id="n148" class="l" transform="rotate(22.48)"><text x="-276" y="2.5">OsMADS71</text></g>
<g id="n149" class="l" transform="rotate(23.86)"><rect x="-311" y="-3.7" width="36" height="7.4"/><text x="-276" y="2.5">SlMADS15</text></g>
<g id="n150" class="l" transform="rotate(25.24)"><rect x="-311" y="-3.7" width="36" height="7.4"/><text x="-276" y="2.5">SlMADS85</text></g>
<g id="n151" class="l" transform="rotate(26.61)"><text x="-276" y="2.5">OsMADS70</text></g>
<g id="n152" class="l" transform="rotate(27.99)"><text x="-276" y="2.5">OsMADS72</text></g>
<g id="n153" class="l" transform="rotate(29.36)"><rect x="-311" y="-3.7" width="36" height="7.4"/><text x="-276" y="2.5">SlMADS44</text></g>
<g id="n154" class="l" transform="rotate(30.74)"><rect x="-307" y="-3.7" width="32" height="7.4"/><text x="-276" y="2.5">SlMADS3</text></g>
<g id="n155" class="l" transform="rotate(32.12)"><text x="-276" y="2.5">OsMADS80</text></g>
<g id="n156" class="l" transform="rotate(33.49)"><rect x="-311" y="-3.7" width="36" height="7.4"/><text x="-276" y="2.5">SlMADS89</text></g>
<g id="n157" class="l" transform="rotate(34.87)"><text x="-276" y="2.5">OsMADS79</text></g>
<g id="n158" class="l" transform="rotate(36.24)"><rect x="-311" y="-3.7" width="36" height="7.4"/><text x="-276" y="2.5">SlMADS29</text></g>
<g id="n159" class="l" transform="rotate(37.62)"><text x="-276" y="2.5">OsMADS78</text></g>
<g id="n160" class="l" transform="rotate(39)"><text x="-276" y="2.5">OsMADS77</text></g>
<g id="n161" class="l" transform="rotate(40.37)"><rect x="-311" y="-3.7" width="36" height="7.4"/><text x="-276" y="2.5">SlMADS78</text></g>
<g id="n162" class="l" transform="rotate(41.75)"><rect x="-311" y="-3.7" width="36" height="7.4"/><text x="-276" y="2.5">SlMADS41</text></g>
<g id="n163" class="l" transform="rotate(43.12)"><text x="-276" y="2.5">OsMADS75</text></g>
<g id="n164" class="l" transform="rotate(44.5)"><text x="-276" y="2.5">OsMADS76</text></g>
<g id="n165" class="l" transform="rotate(45.88)"><text x="-276" y="2.5">OsMADS74</text></g>
<g id="n166" class="l" transform="rotate(47.25)"><text x="-276" y="2.5">OsMADS73</text></g>
<g id="n167" class="l" transform="rotate(48.63)"><rect x="-311" y="-3.7" width="36" height="7.4"/><text x="-276" y="2.5">SlMADS40</text></g>
<g id="n168" class="l" transform="rotate(50)"><rect x="-311" y="-3.7" width="36" height="7.4"/><text x="-276" y="2.5">SlMADS39</text></g>
<g id="n169" class="l" transform="rotate(51.38)"><rect x="-311" y="-3.7" width="36" height="7.4"/><text x="-276" y="2.5">SlMADS72</text></g>
<g id="n170" class="l" transform="rotate(52.76)"><rect x="-311" y="-3.7" width="36" height="7.4"/><text x="-276" y="2.5">SlMADS43</text></g>
<g id="n171" class="l" transform="rotate(54.13)"><rect x="-307" y="-3.7" width="32" height="7.4"/><text x="-276" y="2.5">SlMADS4</text></g>
<g id="n172" class="l" transform="rotate(55.51)"><rect x="-311" y="-3.7" width="36" height="7.4"/><text x="-276" y="2.5">SlMADS18</text></g>
<g id="n173" class="l" transform="rotate(56.88)"><rect x="-311" y="-3.7" width="36" height="7.4"/><text x="-276" y="2.5">SlMADS30</text></g>
<g id="n174" class="l" transform="rotate(58.26)"><rect x="-311" y="-3.7" width="36" height="7.4"/><text x="-276" y="2.5">SlMADS17</text></g>
<g id="n175" class="l" transform="rotate(59.64)"><rect x="-311" y="-3.7" width="36" height="7.4"/><text x="-276" y="2.5">SlMADS63</text></g>
<g id="n176" class="l" transform="rotate(61.01)"><rect x="-307" y="-3.7" width="32" height="7.4"/><text x="-276" y="2.5">SlMADS1</text></g>
<g id="n177" class="l" transform="rotate(62.39)"><rect x="-311" y="-3.7" width="36" height="7.4"/><text x="-276" y="2.5">SlMADS16</text></g>
<g id="n178" class="l" transform="rotate(63.76)"><rect x="-311" y="-3.7" width="36" height="7.4"/><text x="-276" y="2.5">SlMADS42</text></g>
<g id="n179" class="l" transform="rotate(65.14)"><rect x="-311" y="-3.7" width="36" height="7.4"/><text x="-276" y="2.5">SlMADS94</text></g>
<g id="n180" class="l" transform="rotate(66.52)"><rect x="-311" y="-3.7" width="36" height="7.4"/><text x="-276" y="2.5">SlMADS71</text></g>
<g id="n181" class="l" transform="rotate(67.89)"><rect x="-311" y="-3.7" width="36" height="7.4"/><text x="-276" y="2.5">SlMADS84</text></g>
<g id="n182" class="l" transform="rotate(69.27)"><rect x="-311" y="-3.7" width="36" height="7.4"/><text x="-276" y="2.5">SlMADS69</text></g>
<g id="n183" class="l" transform="rotate(70.64)"><rect x="-311" y="-3.7" width="36" height="7.4"/><text x="-276" y="2.5">SlMADS77</text></g>
<g id="n184" class="l" transform="rotate(72.02)"><text x="-276" y="2.5">AGL60</text></g>
<g id="n185" class="l" transform="rotate(73.4)"><text x="-276" y="2.5">AGL100</text></g>
<g id="n186" class="l" transform="rotate(74.77)"><text x="-276" y="2.5">AGL39</text></g>
<g id="n187" class="l" transform="rotate(76.15)"><text x="-276" y="2.5">AGL74</text></g>
<g id="n188" class="l" transform="rotate(77.52)"><text x="-276" y="2.5">AGL55</text></g>
<g id="n189" class="l" transform="rotate(78.9)"><text x="-276" y="2.5">AGL56</text></g>
<g id="n190" class="l" transform="rotate(80.28)"><text x="-276" y="2.5">AGL97</text></g>
<g id="n191" class="l" transform="rotate(81.65)"><text x="-276" y="2.5">AGL99</text></g>
<g id="n192" class="l" transform="rotate(83.03)"><text x="-276" y="2.5">AGL84</text></g>
<g id="n193" class="l" transform="rotate(84.4)"><text x="-276" y="2.5">AGL73</text></g>
<g id="n194" class="l" transform="rotate(85.78)"><text x="-276" y="2.5">AGL83</text></g>
<g id="n195" class="l" transform="rotate(87.16)"><rect x="-311" y="-3.7" width="36" height="7.4"/><text x="-276" y="2.5">SlMADS14</text></g>
<g id="n196" class="l" transform="rotate(88.53)"><rect x="-311" y="-3.7" width="36" height="7.4"/><text x="-276" y="2.5">SlMADS31</text></g>
<g id="n197" class="l" transform="rotate(89.91)"><rect x="-307" y="-3.7" width="32" height="7.4"/><text x="-276" y="2.5">SlMADS5</text></g>
<g id="n198" transform="rotate(271.28)"><text x="276" y="2.5">OsMADS91</text></g>
<g id="n199" transform="rotate(272.66)"><text x="276" y="2.5">OsMADS90</text></g>
<g id="n200" transform="rotate(274.04)"><text x="276" y="2.5">AGL49</text></g>
<g id="n201" transform="rotate(275.41)"><text x="276" y="2.5">AGL50</text></g>
<g id="n202" transform="rotate(276.79)"><text x="276" y="2.5">AGL103</text></g>
<g id="n203" transform="rotate(278.16)"><text x="276" y="2.5">AGL43</text></g>
<g id="n204" transform="rotate(279.54)"><text x="276" y="2.5">AGL75</text></g>
<g id="n205" transform="rotate(280.92)"><text x="276" y="2.5">AGL76</text></g>
<g id="n206" transform="rotate(282.29)"><text x="276" y="2.5">AGL77</text></g>
<g id="n207" transform="rotate(283.67)"><text x="276" y="2.5">AGL98</text></g>
<g id="n208" transform="rotate(285.04)"><text x="276" y="2.5">AGL81</text></g>
<g id="n209" transform="rotate(286.42)"><text x="276" y="2.5">AGL78</text></g>
<g id="n210" transform="rotate(287.8)"><text x="276" y="2.5">AGL52</text></g>
<g id="n211" transform="rotate(289.17)"><text x="276" y="2.5">AGL53</text></g>
<g id="n212" transform="rotate(290.55)"><text x="276" y="2.5">AGL54</text></g>
<g id="n213" transform="rotate(291.92)"><text x="276" y="2.5">AGL82</text></g>
<g id="n214" transform="rotate(293.3)"><text x="276" y="2.5">AGL89</text></g>
<g id="n215" transform="rotate(294.68)"><text x="276" y="2.5">AGL101</text></g>
<g id="n216" transform="rotate(296.05)"><rect x="275" y="-3.7" width="36" height="7.4"/><text x="276" y="2.5">SlMADS82</text></g>
<g id="n217" transform="rotate(297.43)"><text x="276" y="2.5">OsMADS96</text></g>
<g id="n218" transform="rotate(298.8)"><text x="276" y="2.5">OsMADS98</text></g>
<g id="n219" transform="rotate(300.18)"><rect x="275" y="-3.7" width="36" height="7.4"/><text x="276" y="2.5">SlMADS60</text></g>
<g id="n220" transform="rotate(301.56)"><text x="276" y="2.5">OsMADS95</text></g>
<g id="n221" transform="rotate(302.93)"><text x="276" y="2.5">OsMADS93</text></g>
<g id="n222" transform="rotate(304.31)"><text x="276" y="2.5">OsMADS92</text></g>
<g id="n223" transform="rotate(305.68)"><text x="276" y="2.5">OsMADS94</text></g>
<g id="n224" transform="rotate(307.06)"><rect x="275" y="-3.7" width="36" height="7.4"/><text x="276" y="2.5">SlMADS88</text></g>
<g id="n225" transform="rotate(308.44)"><text x="276" y="2.5">OsMADS97</text></g>
<g id="n226" transform="rotate(309.81)"><rect x="275" y="-3.7" width="36" height="7.4"/><text x="276" y="2.5">SlMADS21</text></g>
<g id="n227" transform="rotate(311.19)"><text x="276" y="2.5">AGL47</text></g>
<g id="n228" transform="rotate(312.56)"><text x="276" y="2.5">AGL36</text></g>
<g id="n229" transform="rotate(313.94)"><text x="276" y="2.5">OsMADS88</text></g>
<g id="n230" transform="rotate(315.32)"><rect x="275" y="-3.7" width="32" height="7.4"/><text x="276" y="2.5">SlMADS6</text></g>
<g id="n231" transform="rotate(316.69)"><rect x="275" y="-3.7" width="36" height="7.4"/><text x="276" y="2.5">SlMADS76</text></g>
<g id="n232" transform="rotate(318.07)"><rect x="275" y="-3.7" width="36" height="7.4"/><text x="276" y="2.5">SlMADS47</text></g>
<g id="n233" transform="rotate(319.44)"><rect x="275" y="-3.7" width="36" height="7.4"/><text x="276" y="2.5">SlMADS51</text></g>
<g id="n234" transform="rotate(320.82)"><text x="276" y="2.5">OsMADS86</text></g>
<g id="n235" transform="rotate(322.2)"><text x="276" y="2.5">OsMADS87</text></g>
<g id="n236" transform="rotate(323.57)"><text x="276" y="2.5">OsMADS84</text></g>
<g id="n237" transform="rotate(324.95)"><text x="276" y="2.5">OsMADS99</text></g>
<g id="n238" transform="rotate(326.32)"><text x="276" y="2.5">OsMADS85</text></g>
<g id="n239" transform="rotate(327.7)"><text x="276" y="2.5">OsMADS82</text></g>
<g id="n240" transform="rotate(329.08)"><text x="276" y="2.5">OsMADS81</text></g>
<g id="n241" transform="rotate(330.45)"><text x="276" y="2.5">OsMADS83</text></g>
<g id="n242" transform="rotate(331.83)"><text x="276" y="2.5">OsMADS89</text></g>
<g id="n243" transform="rotate(333.2)"><text x="276" y="2.5">AGL41</text></g>
<g id="n244" transform="rotate(334.58)"><text x="276" y="2.5">AGL48</text></g>
<g id="n245" transform="rotate(335.96)"><text x="276" y="2.5">AGL96</text></g>
<g id="n246" transform="rotate(337.33)"><text x="276" y="2.5">AGL87</text></g>
<g id="n247" transform="rotate(338.71)"><text x="276" y="2.5">AGL86</text></g>
<g id="n248" transform="rotate(340.08)"><text x="276" y="2.5">AGL92</text></g>
<g id="n249" transform="rotate(341.46)"><text x="276" y="2.5">AGL90</text></g>
<g id="n250" transform="rotate(342.84)"><text x="276" y="2.5">AGL38</text></g>
<g id="n251" transform="rotate(344.21)"><text x="276" y="2.5">AGL37</text></g>
<g id="n252" transform="rotate(345.59)"><text x="276" y="2.5">AGL80</text></g>
<g id="n253" transform="rotate(346.96)"><text x="276" y="2.5">AGL45</text></g>
<g id="n254" transform="rotate(348.34)"><text x="276" y="2.5">AGL46</text></g>
</g>
</g>
</svg>
